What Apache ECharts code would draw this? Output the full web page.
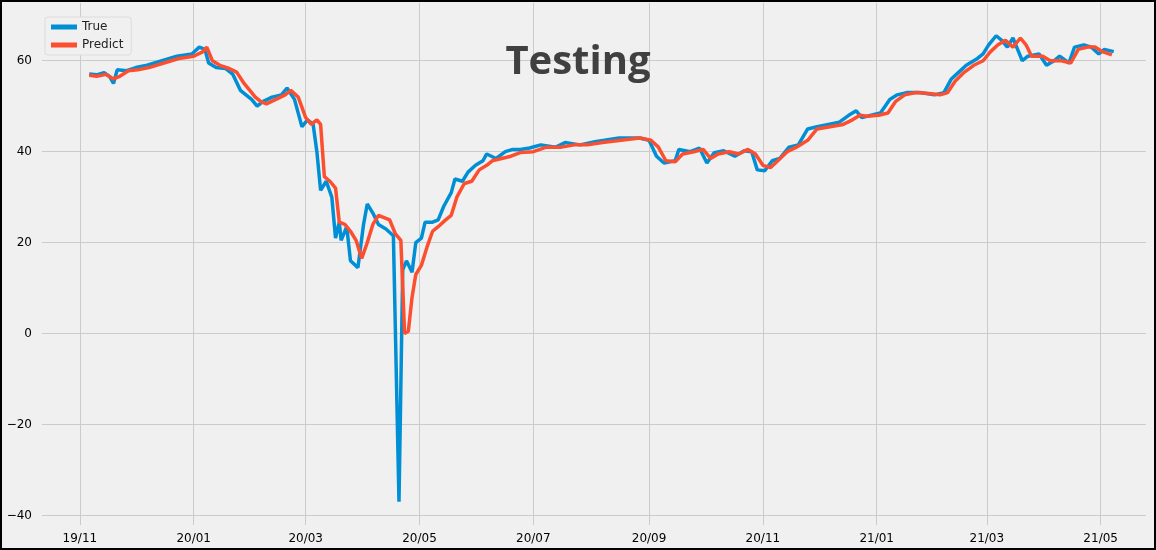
<!DOCTYPE html>
<html><head><meta charset="utf-8">
<script src="https://cdn.jsdelivr.net/npm/echarts@6/dist/echarts.min.js"></script>
<style>html,body{margin:0;padding:0;background:#f0f0f0}#c{width:1156px;height:550px;box-sizing:border-box;border:2px solid #000}</style>
</head><body><div id="c"></div>
<script>
const tickDays=[0,61,121,182,243,305,366,427,486,547];
const tickLabels=['19/11','20/01','20/03','20/05','20/07','20/09','20/11','21/01','21/03','21/05'];
const yTicks=[-40,-20,0,20,40,60];
const trueDays=[5,9,13,16,18,20,25,30,36,44,52,60,64,67,69,73,78,82,86,92,95,98,103,108,111,115,119,122,125,127,129,132,135,137,139,140,143,145,149,152,154,157,160,164,168,171,173,175,178,180,183,185,189,192,195,199,201,205,208,212,216,218,223,228,232,236,241,247,255,260,268,276,281,289,300,305,309,313,319,321,327,332,336,340,345,351,356,360,363,367,371,375,380,385,390,395,401,407,412,416,419,424,429,434,438,443,450,458,463,467,471,475,481,484,487,491,494,497,500,503,505,508,514,518,522,525,530,533,538,542,546,549,554];
const trueVals=[57.1,56.9,57.4,56.5,55.0,58.0,57.8,58.5,59.0,60.0,61.0,61.5,63.0,62.5,59.5,58.5,58.3,57.0,53.5,51.5,50.0,51.0,52.0,52.5,54.0,51.5,45.5,47.0,46.0,40.0,31.5,33.5,30.0,21.0,24.5,20.5,23.5,16.0,14.5,24.0,28.5,26.5,24.0,23.0,21.5,-37.0,14.0,16.0,13.5,20.0,21.0,24.5,24.5,25.0,28.0,31.0,34.0,33.5,35.5,37.0,38.0,39.5,38.5,40.0,40.5,40.5,40.8,41.5,41.0,42.0,41.5,42.2,42.5,43.0,43.0,42.5,39.0,37.5,38.0,40.5,40.0,40.8,37.5,39.8,40.2,39.0,40.2,40.0,36.0,35.8,38.0,38.5,41.0,41.5,45.0,45.5,46.0,46.5,48.0,49.0,47.5,48.0,48.5,51.5,52.5,53.0,53.0,52.5,53.0,56.0,57.5,59.0,60.5,61.5,63.5,65.5,64.5,63.0,65.0,62.0,60.0,61.0,61.5,59.0,60.0,61.0,59.5,63.0,63.5,63.0,61.5,62.5,62.0];
const predDays=[5,9,14,18,21,26,31,37,45,53,61,66,68,71,75,80,84,88,94,97,100,105,110,113,117,121,124,127,129,131,134,137,139,142,145,148,151,154,157,160,163,166,169,172,174,176,178,180,183,186,189,192,196,199,202,206,210,214,218,221,226,231,236,243,250,258,265,272,280,290,300,306,310,314,319,323,329,334,338,342,348,353,358,362,366,370,374,379,384,390,395,402,409,414,418,422,428,433,437,442,448,455,461,465,469,474,479,484,488,492,496,500,504,507,510,516,520,526,531,535,540,544,548,553];
const predVals=[56.8,56.6,57.0,56.0,56.5,57.8,58.0,58.5,59.5,60.5,61.0,62.0,63.0,60.0,59.0,58.3,57.5,55.0,52.0,51.0,50.5,51.5,52.5,53.5,52.0,47.5,46.0,47.0,46.0,34.5,33.5,32.0,24.5,24.0,22.5,20.5,16.5,20.0,24.0,26.0,25.5,25.0,22.0,20.5,0.0,0.5,8.0,13.0,15.0,19.0,22.5,23.5,25.0,26.0,30.0,33.0,33.5,36.0,37.0,38.0,38.5,39.0,39.8,40.0,41.0,41.0,41.5,41.5,42.0,42.5,43.0,42.5,41.0,38.0,37.8,39.5,40.0,40.5,38.5,39.5,40.0,39.5,40.5,39.5,37.0,36.5,38.0,40.0,41.0,42.5,45.0,45.5,46.0,47.0,48.0,47.8,48.0,48.5,51.0,52.5,53.0,52.8,52.5,53.0,55.5,57.5,59.0,60.0,62.0,63.5,64.5,63.0,65.0,63.5,61.0,61.0,60.0,60.0,59.5,62.5,63.0,63.0,62.0,61.3];

const chart=echarts.init(document.getElementById('c'));
const txt={color:'#000',fontSize:12,fontFamily:'DejaVu Sans'};
chart.setOption({
  backgroundColor:'#f0f0f0',animation:false,
  title:{text:'Testing',left:'center',top:36,textStyle:{fontSize:40,fontWeight:'bold',color:'#404040',fontFamily:'Open Sans'}},
  legend:{orient:'vertical',left:43,top:15,itemWidth:26,itemHeight:5,itemGap:6,padding:[4,8,4,6],
    backgroundColor:'#f0f0f0',borderColor:'#dcdcdc',borderWidth:1,borderRadius:3,
    textStyle:{color:'#222',fontSize:12,fontFamily:'DejaVu Sans'},
    data:[{name:'True',icon:'rect'},{name:'Predict',icon:'rect'}]},
  grid:{left:40,right:8,top:1,bottom:23},
  xAxis:{type:'value',min:-20.3,max:571.3,
    axisLine:{show:false},
    axisTick:{show:false,customValues:tickDays},
    axisLabel:{customValues:tickDays,...txt,margin:8,formatter:v=>tickLabels[tickDays.indexOf(v)]||''},
    splitLine:{show:true,lineStyle:{color:'#cbcbcb',width:1}}},
  yAxis:{type:'value',min:-42.1,max:72.7,
    axisLine:{show:false},
    axisTick:{show:false,customValues:yTicks},
    axisLabel:{customValues:yTicks,...txt,margin:10,formatter:v=>v<0?'\u2212'+(-v):String(v)},
    splitLine:{show:true,lineStyle:{color:'#cbcbcb',width:1}}},
  series:[
    {name:'True',type:'line',showSymbol:false,symbol:'none',color:'#008fd5',lineStyle:{width:3.5,color:'#008fd5'},
      data:trueDays.map((d,i)=>[d,trueVals[i]])},
    {name:'Predict',type:'line',showSymbol:false,symbol:'none',color:'#fc4f30',lineStyle:{width:3.5,color:'#fc4f30'},
      data:predDays.map((d,i)=>[d,predVals[i]])}
  ]
});
</script></body></html>
